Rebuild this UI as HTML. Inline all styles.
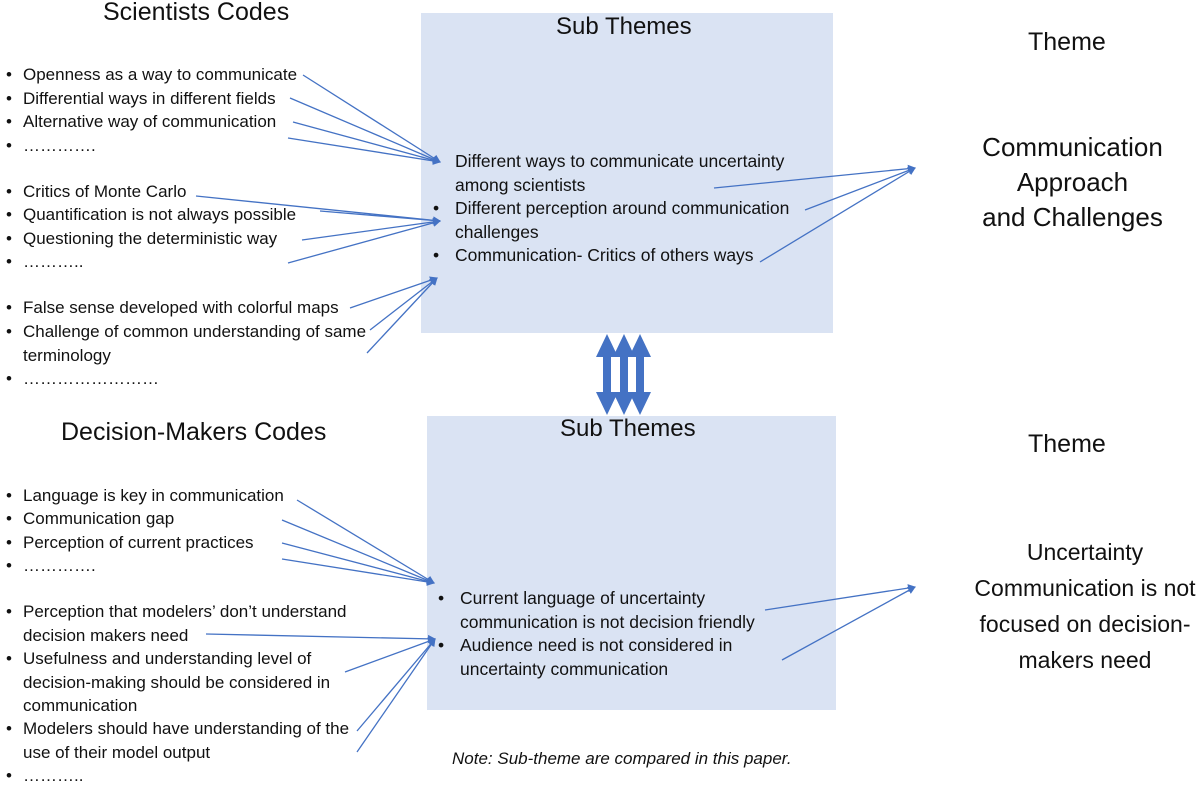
<!DOCTYPE html>
<html><head><meta charset="utf-8"><style>
body{margin:0;width:1200px;height:783px;background:#fff;position:relative;overflow:hidden;font-family:"Liberation Sans",sans-serif;color:#111}
.box{position:absolute;background:#dae3f3}
.t{position:absolute;white-space:nowrap}
.li{position:absolute;font-size:17px;white-space:nowrap;line-height:23.5px}
.li span{position:absolute;left:-17px}
.s{font-size:17.5px}
svg{position:absolute;left:0;top:0}
</style></head><body>
<div class="box" style="left:421px;top:13px;width:412px;height:320px"></div>
<div class="box" style="left:427px;top:416px;width:409px;height:294px"></div>
<div class="t" style="left:103px;top:-2px;font-size:25px">Scientists Codes</div>
<div class="t" style="left:556px;top:13px;font-size:24px">Sub Themes</div>
<div class="t" style="left:1028px;top:28px;font-size:25px">Theme</div>
<div class="t" style="left:61px;top:418px;font-size:25px">Decision-Makers Codes</div>
<div class="t" style="left:560px;top:415px;font-size:24px">Sub Themes</div>
<div class="t" style="left:1028px;top:430px;font-size:25px">Theme</div>
<div class="t" style="left:950px;top:130px;width:245px;text-align:center;font-size:26px;line-height:35px">Communication<br>Approach<br>and Challenges</div>
<div class="t" style="left:955px;top:534px;width:260px;text-align:center;font-size:23px;line-height:36px">Uncertainty<br>Communication is not<br>focused on decision-<br>makers need</div>
<div class="li" style="left:23px;top:63px"><span>•</span>Openness as a way to communicate</div>
<div class="li" style="left:23px;top:87px"><span>•</span>Differential ways in different fields</div>
<div class="li" style="left:23px;top:110px"><span>•</span>Alternative way of communication</div>
<div class="li" style="left:23px;top:134px"><span>•</span>………….</div>
<div class="li" style="left:23px;top:180px"><span>•</span>Critics of Monte Carlo</div>
<div class="li" style="left:23px;top:203px"><span>•</span>Quantification is not always possible</div>
<div class="li" style="left:23px;top:227px"><span>•</span>Questioning the deterministic way</div>
<div class="li" style="left:23px;top:250px"><span>•</span>………..</div>
<div class="li" style="left:23px;top:296px"><span>•</span>False sense developed with colorful maps</div>
<div class="li" style="left:23px;top:320px"><span>•</span>Challenge of common understanding of same<br>terminology</div>
<div class="li" style="left:23px;top:367px"><span>•</span>……………………</div>
<div class="li s" style="left:455px;top:150px">Different ways to communicate uncertainty<br>among scientists</div>
<div class="li s" style="left:455px;top:197px"><span style="left:-22px">•</span>Different perception around communication<br>challenges</div>
<div class="li s" style="left:455px;top:244px"><span style="left:-22px">•</span>Communication- Critics of others ways</div>
<div class="li" style="left:23px;top:484px"><span>•</span>Language is key in communication</div>
<div class="li" style="left:23px;top:507px"><span>•</span>Communication gap</div>
<div class="li" style="left:23px;top:531px"><span>•</span>Perception of current practices</div>
<div class="li" style="left:23px;top:554px"><span>•</span>………….</div>
<div class="li" style="left:23px;top:600px"><span>•</span>Perception that modelers’ don’t understand<br>decision makers need</div>
<div class="li" style="left:23px;top:647px"><span>•</span>Usefulness and understanding level of<br>decision-making should be considered in<br>communication</div>
<div class="li" style="left:23px;top:717px"><span>•</span>Modelers should have understanding of the<br>use of their model output</div>
<div class="li" style="left:23px;top:764px"><span>•</span>………..</div>
<div class="li s" style="left:460px;top:587px"><span style="left:-22px">•</span>Current language of uncertainty<br>communication is not decision friendly</div>
<div class="li s" style="left:460px;top:634px"><span style="left:-22px">•</span>Audience need is not considered in<br>uncertainty communication</div>
<div class="t" style="left:452px;top:749px;font-size:17px;font-style:italic">Note: Sub-theme are compared in this paper.</div>
<svg width="1200" height="783">
<defs><marker id="a" markerWidth="8" markerHeight="8" refX="7" refY="4" orient="auto" markerUnits="userSpaceOnUse" viewBox="0 0 8 8"><path d="M0,0L8,4L0,8z" fill="#4472c4"/></marker></defs>
<g stroke="#4472c4" stroke-width="1.3" fill="none">
<line x1="303" y1="75" x2="440" y2="162" marker-end="url(#a)"/>
<line x1="290" y1="98" x2="440" y2="162" marker-end="url(#a)"/>
<line x1="293" y1="122" x2="440" y2="162" marker-end="url(#a)"/>
<line x1="288" y1="138" x2="440" y2="162" marker-end="url(#a)"/>
<line x1="196" y1="196" x2="440" y2="221" marker-end="url(#a)"/>
<line x1="320" y1="211" x2="440" y2="221" marker-end="url(#a)"/>
<line x1="302" y1="240" x2="440" y2="221" marker-end="url(#a)"/>
<line x1="288" y1="263" x2="440" y2="221" marker-end="url(#a)"/>
<line x1="350" y1="308" x2="437" y2="278" marker-end="url(#a)"/>
<line x1="370" y1="330" x2="437" y2="278" marker-end="url(#a)"/>
<line x1="367" y1="353" x2="437" y2="278" marker-end="url(#a)"/>
<line x1="714" y1="188" x2="915" y2="168" marker-end="url(#a)"/>
<line x1="805" y1="210" x2="915" y2="168" marker-end="url(#a)"/>
<line x1="760" y1="262" x2="915" y2="168" marker-end="url(#a)"/>
<line x1="297" y1="500" x2="434" y2="583" marker-end="url(#a)"/>
<line x1="282" y1="520" x2="434" y2="583" marker-end="url(#a)"/>
<line x1="282" y1="543" x2="434" y2="583" marker-end="url(#a)"/>
<line x1="282" y1="559" x2="434" y2="583" marker-end="url(#a)"/>
<line x1="206" y1="634" x2="435" y2="639" marker-end="url(#a)"/>
<line x1="345" y1="672" x2="435" y2="639" marker-end="url(#a)"/>
<line x1="357" y1="731" x2="435" y2="639" marker-end="url(#a)"/>
<line x1="357" y1="752" x2="435" y2="639" marker-end="url(#a)"/>
<line x1="765" y1="610" x2="915" y2="587" marker-end="url(#a)"/>
<line x1="782" y1="660" x2="915" y2="587" marker-end="url(#a)"/>
</g>
<g fill="#4472c4">
<path d="M607,334 L596,357 L603,357 L603,392 L596,392 L607,415 L618,392 L611,392 L611,357 L618,357Z"/>
<path d="M624,334 L613,357 L620,357 L620,392 L613,392 L624,415 L635,392 L628,392 L628,357 L635,357Z"/>
<path d="M640,334 L629,357 L636,357 L636,392 L629,392 L640,415 L651,392 L644,392 L644,357 L651,357Z"/>
</g>
</svg>
</body></html>
